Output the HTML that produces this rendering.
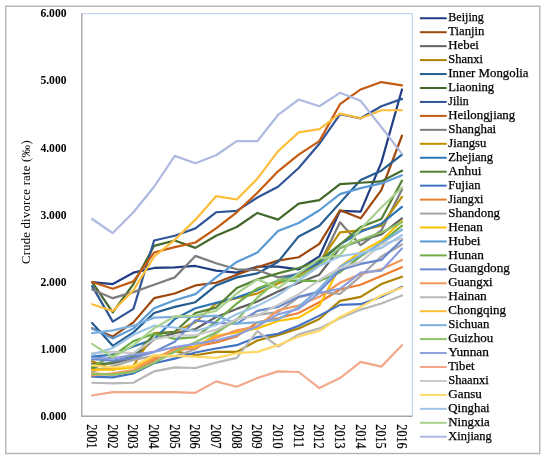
<!DOCTYPE html>
<html><head><meta charset="utf-8"><title>Crude divorce rate</title>
<style>html,body{margin:0;padding:0;background:#fff;}svg{display:block;}</style></head>
<body><svg width="550" height="459" viewBox="0 0 550 459">
<rect x="5.75" y="6.2" width="533.95" height="447.3" fill="#fff" stroke="#B4B4B4" stroke-width="1.4"/>
<polyline points="81.8,13.6 412.3,13.6 412.3,416.3" fill="none" stroke="#C5D3EE" stroke-width="1.2"/>
<polyline points="92.13,282.07 112.78,284.08 133.44,272.67 154.10,267.97 174.75,267.30 195.41,265.96 216.07,270.66 236.72,272.67 257.38,266.63 278.03,266.63 298.69,269.31 319.35,256.56 340.00,210.92 360.66,211.59 381.32,162.60 401.97,89.44" fill="none" stroke="#213E84" stroke-width="2.2" stroke-linejoin="round" stroke-linecap="round"/>
<polyline points="92.13,328.38 112.78,336.43 133.44,322.34 154.10,298.17 174.75,293.48 195.41,285.42 216.07,282.74 236.72,274.68 257.38,267.30 278.03,260.59 298.69,257.23 319.35,243.81 340.00,210.25 360.66,218.31 381.32,190.12 401.97,135.75" fill="none" stroke="#9E480E" stroke-width="2.2" stroke-linejoin="round" stroke-linecap="round"/>
<polyline points="92.13,363.95 112.78,363.28 133.44,357.91 154.10,339.12 174.75,333.08 195.41,329.05 216.07,316.97 236.72,308.91 257.38,301.53 278.03,291.46 298.69,282.74 319.35,274.68 340.00,247.84 360.66,240.45 381.32,234.41 401.97,218.31" fill="none" stroke="#636363" stroke-width="2.2" stroke-linejoin="round" stroke-linecap="round"/>
<polyline points="92.13,361.26 112.78,369.32 133.44,365.96 154.10,357.24 174.75,351.20 195.41,355.22 216.07,351.87 236.72,351.87 257.38,340.46 278.03,335.09 298.69,328.38 319.35,318.98 340.00,300.86 360.66,296.83 381.32,284.08 401.97,276.70" fill="none" stroke="#AD8200" stroke-width="2.2" stroke-linejoin="round" stroke-linecap="round"/>
<polyline points="92.13,323.01 112.78,345.83 133.44,332.40 154.10,312.94 174.75,306.90 195.41,302.20 216.07,285.42 236.72,277.37 257.38,273.34 278.03,261.93 298.69,236.43 319.35,225.69 340.00,202.87 360.66,180.05 381.32,170.65 401.97,154.55" fill="none" stroke="#255E91" stroke-width="2.2" stroke-linejoin="round" stroke-linecap="round"/>
<polyline points="92.13,282.07 112.78,312.27 133.44,284.08 154.10,245.82 174.75,240.45 195.41,247.84 216.07,235.76 236.72,227.03 257.38,212.94 278.03,219.65 298.69,203.54 319.35,200.18 340.00,184.08 360.66,182.73 381.32,181.39 401.97,170.65" fill="none" stroke="#43682B" stroke-width="2.2" stroke-linejoin="round" stroke-linecap="round"/>
<polyline points="92.13,286.09 112.78,321.67 133.44,308.91 154.10,240.45 174.75,235.76 195.41,228.37 216.07,212.27 236.72,210.92 257.38,197.50 278.03,186.76 298.69,167.97 319.35,143.81 340.00,114.28 360.66,118.30 381.32,106.22 401.97,98.84" fill="none" stroke="#2F5597" stroke-width="2.2" stroke-linejoin="round" stroke-linecap="round"/>
<polyline points="92.13,282.07 112.78,288.78 133.44,281.40 154.10,252.54 174.75,247.17 195.41,242.47 216.07,228.37 236.72,212.27 257.38,192.80 278.03,171.32 298.69,154.55 319.35,141.12 340.00,104.21 360.66,89.44 381.32,82.06 401.97,85.41" fill="none" stroke="#C55A11" stroke-width="2.2" stroke-linejoin="round" stroke-linecap="round"/>
<polyline points="92.13,289.45 112.78,298.17 133.44,292.13 154.10,284.75 174.75,277.37 195.41,255.89 216.07,263.27 236.72,269.31 257.38,269.99 278.03,277.37 298.69,274.01 319.35,264.62 340.00,222.33 360.66,245.15 381.32,230.39 401.97,189.45" fill="none" stroke="#7C7C7C" stroke-width="2.2" stroke-linejoin="round" stroke-linecap="round"/>
<polyline points="92.13,369.32 112.78,369.32 133.44,365.96 154.10,333.08 174.75,331.73 195.41,322.34 216.07,303.54 236.72,298.17 257.38,293.48 278.03,283.41 298.69,275.36 319.35,262.60 340.00,232.40 360.66,230.39 381.32,225.69 401.97,196.83" fill="none" stroke="#BF9000" stroke-width="2.2" stroke-linejoin="round" stroke-linecap="round"/>
<polyline points="92.13,356.57 112.78,354.55 133.44,346.50 154.10,339.12 174.75,318.98 195.41,308.24 216.07,302.87 236.72,297.50 257.38,290.12 278.03,280.72 298.69,273.34 319.35,262.60 340.00,244.48 360.66,231.73 381.32,223.68 401.97,206.90" fill="none" stroke="#2E75B6" stroke-width="2.2" stroke-linejoin="round" stroke-linecap="round"/>
<polyline points="92.13,367.98 112.78,361.94 133.44,355.89 154.10,334.42 174.75,331.73 195.41,312.94 216.07,307.57 236.72,288.11 257.38,279.38 278.03,273.34 298.69,267.97 319.35,260.59 340.00,244.48 360.66,227.03 381.32,218.98 401.97,180.72" fill="none" stroke="#548235" stroke-width="2.2" stroke-linejoin="round" stroke-linecap="round"/>
<polyline points="92.13,376.70 112.78,377.37 133.44,373.35 154.10,363.28 174.75,358.58 195.41,352.54 216.07,348.51 236.72,345.16 257.38,337.10 278.03,333.75 298.69,325.69 319.35,315.62 340.00,304.89 360.66,304.22 381.32,296.83 401.97,286.76" fill="none" stroke="#4472C4" stroke-width="2.2" stroke-linejoin="round" stroke-linecap="round"/>
<polyline points="92.13,373.35 112.78,374.69 133.44,371.33 154.10,359.92 174.75,348.51 195.41,346.50 216.07,342.47 236.72,336.43 257.38,322.34 278.03,318.31 298.69,312.94 319.35,302.20 340.00,289.45 360.66,284.75 381.32,276.03 401.97,267.30" fill="none" stroke="#ED7D31" stroke-width="2.2" stroke-linejoin="round" stroke-linecap="round"/>
<polyline points="92.13,371.33 112.78,366.10 133.44,359.92 154.10,355.89 174.75,356.36 195.41,349.32 216.07,333.28 236.72,318.78 257.38,314.95 278.03,312.13 298.69,297.17 319.35,292.47 340.00,293.81 360.66,276.16 381.32,256.56 401.97,244.48" fill="none" stroke="#A5A5A5" stroke-width="2.2" stroke-linejoin="round" stroke-linecap="round"/>
<polyline points="92.13,369.99 112.78,369.32 133.44,367.30 154.10,357.24 174.75,351.20 195.41,346.50 216.07,335.76 236.72,332.40 257.38,328.38 278.03,320.99 298.69,317.64 319.35,305.56 340.00,266.63 360.66,251.86 381.32,240.45 401.97,220.99" fill="none" stroke="#FFC000" stroke-width="2.2" stroke-linejoin="round" stroke-linecap="round"/>
<polyline points="92.13,328.38 112.78,338.44 133.44,328.38 154.10,308.24 174.75,300.19 195.41,294.15 216.07,277.37 236.72,261.93 257.38,252.54 278.03,231.06 298.69,223.00 319.35,210.25 340.00,194.14 360.66,188.10 381.32,183.41 401.97,175.35" fill="none" stroke="#5B9BD5" stroke-width="2.2" stroke-linejoin="round" stroke-linecap="round"/>
<polyline points="92.13,366.63 112.78,355.89 133.44,341.13 154.10,333.75 174.75,338.91 195.41,337.10 216.07,321.67 236.72,303.54 257.38,288.44 278.03,280.86 298.69,280.72 319.35,281.06 340.00,272.20 360.66,256.36 381.32,242.94 401.97,225.69" fill="none" stroke="#70AD47" stroke-width="2.2" stroke-linejoin="round" stroke-linecap="round"/>
<polyline points="92.13,359.25 112.78,360.59 133.44,357.91 154.10,351.87 174.75,341.80 195.41,320.32 216.07,323.01 236.72,323.68 257.38,310.93 278.03,306.90 298.69,296.83 319.35,291.46 340.00,269.99 360.66,263.95 381.32,259.92 401.97,239.78" fill="none" stroke="#6A88CE" stroke-width="2.2" stroke-linejoin="round" stroke-linecap="round"/>
<polyline points="92.13,375.36 112.78,373.35 133.44,369.99 154.10,358.58 174.75,349.85 195.41,348.51 216.07,337.77 236.72,330.39 257.38,326.36 278.03,310.26 298.69,305.56 319.35,296.83 340.00,282.74 360.66,274.01 381.32,269.31 401.97,259.92" fill="none" stroke="#F1975A" stroke-width="2.2" stroke-linejoin="round" stroke-linecap="round"/>
<polyline points="92.13,382.74 112.78,383.41 133.44,382.74 154.10,371.33 174.75,367.30 195.41,367.98 216.07,362.61 236.72,357.91 257.38,331.06 278.03,346.50 298.69,334.42 319.35,328.38 340.00,318.31 360.66,309.58 381.32,303.54 401.97,295.49" fill="none" stroke="#B7B7B7" stroke-width="2.2" stroke-linejoin="round" stroke-linecap="round"/>
<polyline points="92.13,304.22 112.78,310.93 133.44,290.12 154.10,256.56 174.75,239.78 195.41,219.65 216.07,196.16 236.72,199.51 257.38,178.71 278.03,151.19 298.69,132.40 319.35,129.04 340.00,113.60 360.66,118.30 381.32,110.25 401.97,110.25" fill="none" stroke="#FCBE3A" stroke-width="2.2" stroke-linejoin="round" stroke-linecap="round"/>
<polyline points="92.13,333.08 112.78,330.39 133.44,325.69 154.10,317.64 174.75,316.97 195.41,316.97 216.07,315.62 236.72,323.68 257.38,322.34 278.03,319.65 298.69,306.90 319.35,288.78 340.00,266.63 360.66,255.22 381.32,243.14 401.97,229.72" fill="none" stroke="#7CAFDD" stroke-width="2.2" stroke-linejoin="round" stroke-linecap="round"/>
<polyline points="92.13,374.02 112.78,374.69 133.44,371.87 154.10,362.81 174.75,351.67 195.41,342.14 216.07,332.27 236.72,319.99 257.38,297.64 278.03,280.05 298.69,277.23 319.35,265.62 340.00,247.97 360.66,239.78 381.32,232.53 401.97,222.33" fill="none" stroke="#8CC168" stroke-width="2.2" stroke-linejoin="round" stroke-linecap="round"/>
<polyline points="92.13,357.91 112.78,358.58 133.44,354.55 154.10,351.87 174.75,347.17 195.41,343.81 216.07,340.46 236.72,335.09 257.38,326.36 278.03,314.28 298.69,308.91 319.35,292.81 340.00,288.78 360.66,272.67 381.32,270.66 401.97,248.51" fill="none" stroke="#8C9FDC" stroke-width="2.2" stroke-linejoin="round" stroke-linecap="round"/>
<polyline points="92.13,395.49 112.78,392.14 133.44,392.14 154.10,392.14 174.75,392.14 195.41,392.81 216.07,381.40 236.72,386.77 257.38,378.04 278.03,371.33 298.69,372.00 319.35,388.11 340.00,378.04 360.66,361.94 381.32,366.63 401.97,345.16" fill="none" stroke="#F2A88A" stroke-width="2.2" stroke-linejoin="round" stroke-linecap="round"/>
<polyline points="92.13,353.21 112.78,351.87 133.44,353.21 154.10,339.12 174.75,335.76 195.41,335.09 216.07,329.72 236.72,318.98 257.38,315.62 278.03,304.89 298.69,294.15 319.35,280.05 340.00,267.97 360.66,261.93 381.32,244.48 401.97,238.44" fill="none" stroke="#C9C9C9" stroke-width="2.2" stroke-linejoin="round" stroke-linecap="round"/>
<polyline points="92.13,365.29 112.78,367.30 133.44,365.96 154.10,355.22 174.75,355.89 195.41,356.57 216.07,357.91 236.72,353.21 257.38,351.87 278.03,345.16 298.69,336.43 319.35,331.06 340.00,316.97 360.66,306.90 381.32,295.49 401.97,287.44" fill="none" stroke="#FFD966" stroke-width="2.2" stroke-linejoin="round" stroke-linecap="round"/>
<polyline points="92.13,354.55 112.78,347.98 133.44,334.75 154.10,325.69 174.75,327.50 195.41,331.20 216.07,325.02 236.72,314.15 257.38,305.89 278.03,295.36 298.69,280.59 319.35,265.96 340.00,256.23 360.66,253.01 381.32,248.17 401.97,235.09" fill="none" stroke="#9DC3E6" stroke-width="2.2" stroke-linejoin="round" stroke-linecap="round"/>
<polyline points="92.13,343.81 112.78,357.24 133.44,345.16 154.10,328.38 174.75,316.30 195.41,315.62 216.07,310.93 236.72,293.48 257.38,279.38 278.03,288.11 298.69,273.34 319.35,258.58 340.00,255.22 360.66,229.04 381.32,207.57 401.97,187.43" fill="none" stroke="#A9D18E" stroke-width="2.2" stroke-linejoin="round" stroke-linecap="round"/>
<polyline points="92.13,218.98 112.78,233.07 133.44,212.27 154.10,186.76 174.75,155.89 195.41,163.27 216.07,155.22 236.72,141.12 257.38,141.12 278.03,114.95 298.69,99.51 319.35,106.22 340.00,92.80 360.66,100.85 381.32,127.03 401.97,153.87" fill="none" stroke="#AEB9E2" stroke-width="2.2" stroke-linejoin="round" stroke-linecap="round"/>
<line x1="81.8" y1="13.6" x2="81.8" y2="416.3" stroke="#A6A6A6" stroke-width="1.4"/>
<line x1="81.1" y1="416.3" x2="412.3" y2="416.3" stroke="#A6A6A6" stroke-width="1.4"/>
<text x="66.5" y="17.30" text-anchor="end" font-family='"Liberation Serif", "DejaVu Serif", serif' font-weight="bold" font-size="11.6" fill="#000">6.000</text>
<text x="66.5" y="84.42" text-anchor="end" font-family='"Liberation Serif", "DejaVu Serif", serif' font-weight="bold" font-size="11.6" fill="#000">5.000</text>
<text x="66.5" y="151.53" text-anchor="end" font-family='"Liberation Serif", "DejaVu Serif", serif' font-weight="bold" font-size="11.6" fill="#000">4.000</text>
<text x="66.5" y="218.65" text-anchor="end" font-family='"Liberation Serif", "DejaVu Serif", serif' font-weight="bold" font-size="11.6" fill="#000">3.000</text>
<text x="66.5" y="285.77" text-anchor="end" font-family='"Liberation Serif", "DejaVu Serif", serif' font-weight="bold" font-size="11.6" fill="#000">2.000</text>
<text x="66.5" y="352.88" text-anchor="end" font-family='"Liberation Serif", "DejaVu Serif", serif' font-weight="bold" font-size="11.6" fill="#000">1.000</text>
<text x="66.5" y="420.00" text-anchor="end" font-family='"Liberation Serif", "DejaVu Serif", serif' font-weight="bold" font-size="11.6" fill="#000">0.000</text>
<text transform="translate(87.13,424.3) rotate(90) scale(1.0,1.15)" font-family='"Liberation Serif", "DejaVu Serif", serif' font-size="12.2" fill="#000" stroke="#000" stroke-width="0.2">2001</text>
<text transform="translate(107.78,424.3) rotate(90) scale(1.0,1.15)" font-family='"Liberation Serif", "DejaVu Serif", serif' font-size="12.2" fill="#000" stroke="#000" stroke-width="0.2">2002</text>
<text transform="translate(128.44,424.3) rotate(90) scale(1.0,1.15)" font-family='"Liberation Serif", "DejaVu Serif", serif' font-size="12.2" fill="#000" stroke="#000" stroke-width="0.2">2003</text>
<text transform="translate(149.10,424.3) rotate(90) scale(1.0,1.15)" font-family='"Liberation Serif", "DejaVu Serif", serif' font-size="12.2" fill="#000" stroke="#000" stroke-width="0.2">2004</text>
<text transform="translate(169.75,424.3) rotate(90) scale(1.0,1.15)" font-family='"Liberation Serif", "DejaVu Serif", serif' font-size="12.2" fill="#000" stroke="#000" stroke-width="0.2">2005</text>
<text transform="translate(190.41,424.3) rotate(90) scale(1.0,1.15)" font-family='"Liberation Serif", "DejaVu Serif", serif' font-size="12.2" fill="#000" stroke="#000" stroke-width="0.2">2006</text>
<text transform="translate(211.07,424.3) rotate(90) scale(1.0,1.15)" font-family='"Liberation Serif", "DejaVu Serif", serif' font-size="12.2" fill="#000" stroke="#000" stroke-width="0.2">2007</text>
<text transform="translate(231.72,424.3) rotate(90) scale(1.0,1.15)" font-family='"Liberation Serif", "DejaVu Serif", serif' font-size="12.2" fill="#000" stroke="#000" stroke-width="0.2">2008</text>
<text transform="translate(252.38,424.3) rotate(90) scale(1.0,1.15)" font-family='"Liberation Serif", "DejaVu Serif", serif' font-size="12.2" fill="#000" stroke="#000" stroke-width="0.2">2009</text>
<text transform="translate(273.03,424.3) rotate(90) scale(1.0,1.15)" font-family='"Liberation Serif", "DejaVu Serif", serif' font-size="12.2" fill="#000" stroke="#000" stroke-width="0.2">2010</text>
<text transform="translate(293.69,424.3) rotate(90) scale(1.0,1.15)" font-family='"Liberation Serif", "DejaVu Serif", serif' font-size="12.2" fill="#000" stroke="#000" stroke-width="0.2">2011</text>
<text transform="translate(314.35,424.3) rotate(90) scale(1.0,1.15)" font-family='"Liberation Serif", "DejaVu Serif", serif' font-size="12.2" fill="#000" stroke="#000" stroke-width="0.2">2012</text>
<text transform="translate(335.00,424.3) rotate(90) scale(1.0,1.15)" font-family='"Liberation Serif", "DejaVu Serif", serif' font-size="12.2" fill="#000" stroke="#000" stroke-width="0.2">2013</text>
<text transform="translate(355.66,424.3) rotate(90) scale(1.0,1.15)" font-family='"Liberation Serif", "DejaVu Serif", serif' font-size="12.2" fill="#000" stroke="#000" stroke-width="0.2">2014</text>
<text transform="translate(376.32,424.3) rotate(90) scale(1.0,1.15)" font-family='"Liberation Serif", "DejaVu Serif", serif' font-size="12.2" fill="#000" stroke="#000" stroke-width="0.2">2015</text>
<text transform="translate(396.97,424.3) rotate(90) scale(1.0,1.15)" font-family='"Liberation Serif", "DejaVu Serif", serif' font-size="12.2" fill="#000" stroke="#000" stroke-width="0.2">2016</text>
<text transform="translate(30.2,264) rotate(-90)" font-family='"Liberation Serif", "DejaVu Serif", serif' font-size="12.6" textLength="123.6" lengthAdjust="spacing" fill="#000">Crude divorce rate (‰)</text>
<line x1="419.9" y1="18.25" x2="446.7" y2="18.25" stroke="#213E84" stroke-width="2.0"/>
<text x="448.3" y="21.35" font-family='"Liberation Serif", "DejaVu Serif", serif' font-size="13" stroke="#000" stroke-width="0.25" textLength="35.5" lengthAdjust="spacingAndGlyphs" fill="#000">Beijing</text>
<line x1="419.9" y1="32.20" x2="446.7" y2="32.20" stroke="#9E480E" stroke-width="2.0"/>
<text x="448.3" y="35.30" font-family='"Liberation Serif", "DejaVu Serif", serif' font-size="13" stroke="#000" stroke-width="0.25" textLength="36.1" lengthAdjust="spacingAndGlyphs" fill="#000">Tianjin</text>
<line x1="419.9" y1="46.15" x2="446.7" y2="46.15" stroke="#636363" stroke-width="2.0"/>
<text x="448.3" y="49.25" font-family='"Liberation Serif", "DejaVu Serif", serif' font-size="13" stroke="#000" stroke-width="0.25" textLength="30.6" lengthAdjust="spacingAndGlyphs" fill="#000">Hebei</text>
<line x1="419.9" y1="60.10" x2="446.7" y2="60.10" stroke="#AD8200" stroke-width="2.0"/>
<text x="448.3" y="63.20" font-family='"Liberation Serif", "DejaVu Serif", serif' font-size="13" stroke="#000" stroke-width="0.25" textLength="34.7" lengthAdjust="spacingAndGlyphs" fill="#000">Shanxi</text>
<line x1="419.9" y1="74.05" x2="446.7" y2="74.05" stroke="#255E91" stroke-width="2.0"/>
<text x="448.3" y="77.15" font-family='"Liberation Serif", "DejaVu Serif", serif' font-size="13" stroke="#000" stroke-width="0.25" textLength="80.2" lengthAdjust="spacingAndGlyphs" fill="#000">Inner Mongolia</text>
<line x1="419.9" y1="88.00" x2="446.7" y2="88.00" stroke="#43682B" stroke-width="2.0"/>
<text x="448.3" y="91.10" font-family='"Liberation Serif", "DejaVu Serif", serif' font-size="13" stroke="#000" stroke-width="0.25" textLength="45.9" lengthAdjust="spacingAndGlyphs" fill="#000">Liaoning</text>
<line x1="419.9" y1="101.95" x2="446.7" y2="101.95" stroke="#2F5597" stroke-width="2.0"/>
<text x="448.3" y="105.05" font-family='"Liberation Serif", "DejaVu Serif", serif' font-size="13" stroke="#000" stroke-width="0.25" textLength="20.4" lengthAdjust="spacingAndGlyphs" fill="#000">Jilin</text>
<line x1="419.9" y1="115.90" x2="446.7" y2="115.90" stroke="#C55A11" stroke-width="2.0"/>
<text x="448.3" y="119.00" font-family='"Liberation Serif", "DejaVu Serif", serif' font-size="13" stroke="#000" stroke-width="0.25" textLength="66.9" lengthAdjust="spacingAndGlyphs" fill="#000">Heilongjiang</text>
<line x1="419.9" y1="129.85" x2="446.7" y2="129.85" stroke="#7C7C7C" stroke-width="2.0"/>
<text x="448.3" y="132.95" font-family='"Liberation Serif", "DejaVu Serif", serif' font-size="13" stroke="#000" stroke-width="0.25" textLength="47.9" lengthAdjust="spacingAndGlyphs" fill="#000">Shanghai</text>
<line x1="419.9" y1="143.80" x2="446.7" y2="143.80" stroke="#BF9000" stroke-width="2.0"/>
<text x="448.3" y="146.90" font-family='"Liberation Serif", "DejaVu Serif", serif' font-size="13" stroke="#000" stroke-width="0.25" textLength="38.1" lengthAdjust="spacingAndGlyphs" fill="#000">Jiangsu</text>
<line x1="419.9" y1="157.75" x2="446.7" y2="157.75" stroke="#2E75B6" stroke-width="2.0"/>
<text x="448.3" y="160.85" font-family='"Liberation Serif", "DejaVu Serif", serif' font-size="13" stroke="#000" stroke-width="0.25" textLength="44.9" lengthAdjust="spacingAndGlyphs" fill="#000">Zhejiang</text>
<line x1="419.9" y1="171.70" x2="446.7" y2="171.70" stroke="#548235" stroke-width="2.0"/>
<text x="448.3" y="174.80" font-family='"Liberation Serif", "DejaVu Serif", serif' font-size="13" stroke="#000" stroke-width="0.25" textLength="33.2" lengthAdjust="spacingAndGlyphs" fill="#000">Anhui</text>
<line x1="419.9" y1="185.65" x2="446.7" y2="185.65" stroke="#4472C4" stroke-width="2.0"/>
<text x="448.3" y="188.75" font-family='"Liberation Serif", "DejaVu Serif", serif' font-size="13" stroke="#000" stroke-width="0.25" textLength="32.2" lengthAdjust="spacingAndGlyphs" fill="#000">Fujian</text>
<line x1="419.9" y1="199.60" x2="446.7" y2="199.60" stroke="#ED7D31" stroke-width="2.0"/>
<text x="448.3" y="202.70" font-family='"Liberation Serif", "DejaVu Serif", serif' font-size="13" stroke="#000" stroke-width="0.25" textLength="35.1" lengthAdjust="spacingAndGlyphs" fill="#000">Jiangxi</text>
<line x1="419.9" y1="213.55" x2="446.7" y2="213.55" stroke="#A5A5A5" stroke-width="2.0"/>
<text x="448.3" y="216.65" font-family='"Liberation Serif", "DejaVu Serif", serif' font-size="13" stroke="#000" stroke-width="0.25" textLength="51.8" lengthAdjust="spacingAndGlyphs" fill="#000">Shandong</text>
<line x1="419.9" y1="227.50" x2="446.7" y2="227.50" stroke="#FFC000" stroke-width="2.0"/>
<text x="448.3" y="230.60" font-family='"Liberation Serif", "DejaVu Serif", serif' font-size="13" stroke="#000" stroke-width="0.25" textLength="34.5" lengthAdjust="spacingAndGlyphs" fill="#000">Henan</text>
<line x1="419.9" y1="241.45" x2="446.7" y2="241.45" stroke="#5B9BD5" stroke-width="2.0"/>
<text x="448.3" y="244.55" font-family='"Liberation Serif", "DejaVu Serif", serif' font-size="13" stroke="#000" stroke-width="0.25" textLength="32.2" lengthAdjust="spacingAndGlyphs" fill="#000">Hubei</text>
<line x1="419.9" y1="255.40" x2="446.7" y2="255.40" stroke="#70AD47" stroke-width="2.0"/>
<text x="448.3" y="258.50" font-family='"Liberation Serif", "DejaVu Serif", serif' font-size="13" stroke="#000" stroke-width="0.25" textLength="35.5" lengthAdjust="spacingAndGlyphs" fill="#000">Hunan</text>
<line x1="419.9" y1="269.35" x2="446.7" y2="269.35" stroke="#6A88CE" stroke-width="2.0"/>
<text x="448.3" y="272.45" font-family='"Liberation Serif", "DejaVu Serif", serif' font-size="13" stroke="#000" stroke-width="0.25" textLength="61.6" lengthAdjust="spacingAndGlyphs" fill="#000">Guangdong</text>
<line x1="419.9" y1="283.30" x2="446.7" y2="283.30" stroke="#F1975A" stroke-width="2.0"/>
<text x="448.3" y="286.40" font-family='"Liberation Serif", "DejaVu Serif", serif' font-size="13" stroke="#000" stroke-width="0.25" textLength="44.4" lengthAdjust="spacingAndGlyphs" fill="#000">Guangxi</text>
<line x1="419.9" y1="297.25" x2="446.7" y2="297.25" stroke="#B7B7B7" stroke-width="2.0"/>
<text x="448.3" y="300.35" font-family='"Liberation Serif", "DejaVu Serif", serif' font-size="13" stroke="#000" stroke-width="0.25" textLength="38.5" lengthAdjust="spacingAndGlyphs" fill="#000">Hainan</text>
<line x1="419.9" y1="311.20" x2="446.7" y2="311.20" stroke="#FCBE3A" stroke-width="2.0"/>
<text x="448.3" y="314.30" font-family='"Liberation Serif", "DejaVu Serif", serif' font-size="13" stroke="#000" stroke-width="0.25" textLength="57.7" lengthAdjust="spacingAndGlyphs" fill="#000">Chongqing</text>
<line x1="419.9" y1="325.15" x2="446.7" y2="325.15" stroke="#7CAFDD" stroke-width="2.0"/>
<text x="448.3" y="328.25" font-family='"Liberation Serif", "DejaVu Serif", serif' font-size="13" stroke="#000" stroke-width="0.25" textLength="41.0" lengthAdjust="spacingAndGlyphs" fill="#000">Sichuan</text>
<line x1="419.9" y1="339.10" x2="446.7" y2="339.10" stroke="#8CC168" stroke-width="2.0"/>
<text x="448.3" y="342.20" font-family='"Liberation Serif", "DejaVu Serif", serif' font-size="13" stroke="#000" stroke-width="0.25" textLength="44.9" lengthAdjust="spacingAndGlyphs" fill="#000">Guizhou</text>
<line x1="419.9" y1="353.05" x2="446.7" y2="353.05" stroke="#8C9FDC" stroke-width="2.0"/>
<text x="448.3" y="356.15" font-family='"Liberation Serif", "DejaVu Serif", serif' font-size="13" stroke="#000" stroke-width="0.25" textLength="40.6" lengthAdjust="spacingAndGlyphs" fill="#000">Yunnan</text>
<line x1="419.9" y1="367.00" x2="446.7" y2="367.00" stroke="#F2A88A" stroke-width="2.0"/>
<text x="448.3" y="370.10" font-family='"Liberation Serif", "DejaVu Serif", serif' font-size="13" stroke="#000" stroke-width="0.25" textLength="26.3" lengthAdjust="spacingAndGlyphs" fill="#000">Tibet</text>
<line x1="419.9" y1="380.95" x2="446.7" y2="380.95" stroke="#C9C9C9" stroke-width="2.0"/>
<text x="448.3" y="384.05" font-family='"Liberation Serif", "DejaVu Serif", serif' font-size="13" stroke="#000" stroke-width="0.25" textLength="40.4" lengthAdjust="spacingAndGlyphs" fill="#000">Shaanxi</text>
<line x1="419.9" y1="394.90" x2="446.7" y2="394.90" stroke="#FFD966" stroke-width="2.0"/>
<text x="448.3" y="398.00" font-family='"Liberation Serif", "DejaVu Serif", serif' font-size="13" stroke="#000" stroke-width="0.25" textLength="33.6" lengthAdjust="spacingAndGlyphs" fill="#000">Gansu</text>
<line x1="419.9" y1="408.85" x2="446.7" y2="408.85" stroke="#9DC3E6" stroke-width="2.0"/>
<text x="448.3" y="411.95" font-family='"Liberation Serif", "DejaVu Serif", serif' font-size="13" stroke="#000" stroke-width="0.25" textLength="41.4" lengthAdjust="spacingAndGlyphs" fill="#000">Qinghai</text>
<line x1="419.9" y1="422.80" x2="446.7" y2="422.80" stroke="#A9D18E" stroke-width="2.0"/>
<text x="448.3" y="425.90" font-family='"Liberation Serif", "DejaVu Serif", serif' font-size="13" stroke="#000" stroke-width="0.25" textLength="41.4" lengthAdjust="spacingAndGlyphs" fill="#000">Ningxia</text>
<line x1="419.9" y1="436.75" x2="446.7" y2="436.75" stroke="#AEB9E2" stroke-width="2.0"/>
<text x="448.3" y="439.85" font-family='"Liberation Serif", "DejaVu Serif", serif' font-size="13" stroke="#000" stroke-width="0.25" textLength="43.5" lengthAdjust="spacingAndGlyphs" fill="#000">Xinjiang</text>
</svg></body></html>
